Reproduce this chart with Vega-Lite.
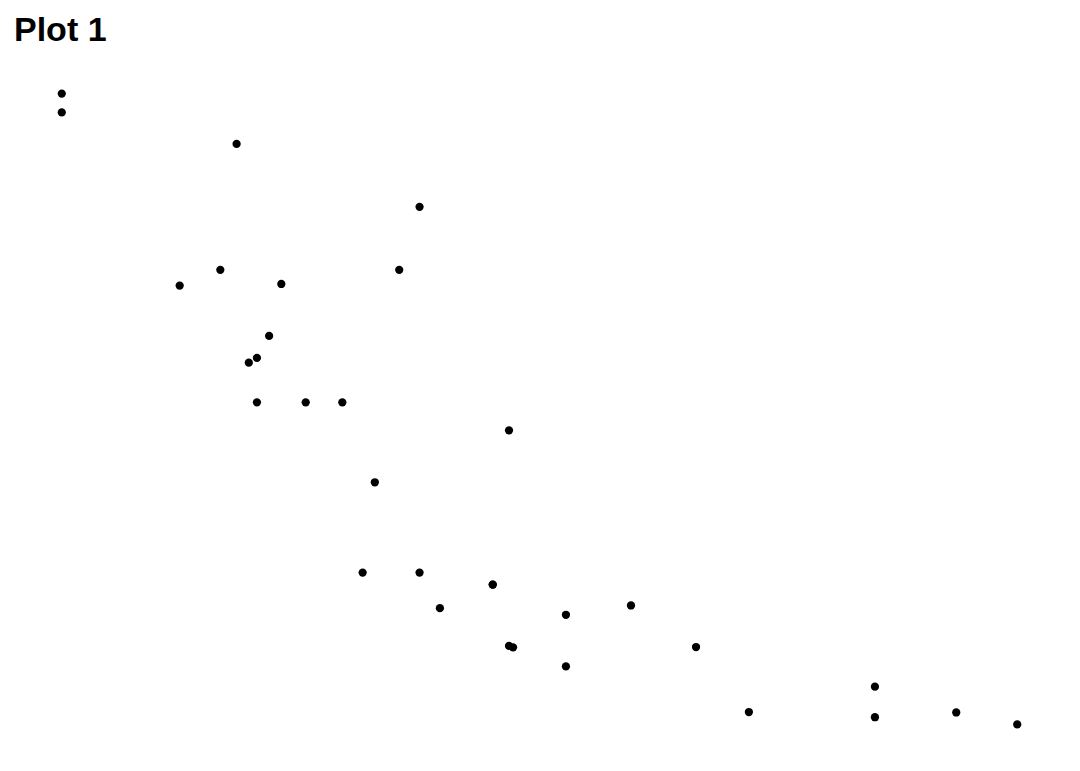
{
  "$schema": "https://vega.github.io/schema/vega-lite/v6.json",
  "autosize": {"type": "none"},
  "width": 1051,
  "height": 694,
  "padding": {"left": 14, "top": 62, "right": 15, "bottom": 15},
  "background": "white",
  "title": {
    "text": "Plot 1",
    "anchor": "start",
    "frame": "group",
    "font": "Liberation Sans",
    "fontSize": 34,
    "fontWeight": "bold",
    "color": "black",
    "baseline": "alphabetic",
    "offset": 20,
    "dy": 33
  },
  "config": {"view": {"stroke": null}},
  "data": {
    "values": [
      {"car": "Mazda RX4", "mpg": 21.0, "disp": 160},
      {"car": "Mazda RX4 Wag", "mpg": 21.0, "disp": 160},
      {"car": "Datsun 710", "mpg": 22.8, "disp": 108},
      {"car": "Hornet 4 Drive", "mpg": 21.4, "disp": 258},
      {"car": "Hornet Sportabout", "mpg": 18.7, "disp": 360},
      {"car": "Valiant", "mpg": 18.1, "disp": 225},
      {"car": "Duster 360", "mpg": 14.3, "disp": 360},
      {"car": "Merc 240D", "mpg": 24.4, "disp": 146.7},
      {"car": "Merc 230", "mpg": 22.8, "disp": 140.8},
      {"car": "Merc 280", "mpg": 19.2, "disp": 167.6},
      {"car": "Merc 280C", "mpg": 17.8, "disp": 167.6},
      {"car": "Merc 450SE", "mpg": 16.4, "disp": 275.8},
      {"car": "Merc 450SL", "mpg": 17.3, "disp": 275.8},
      {"car": "Merc 450SLC", "mpg": 15.2, "disp": 275.8},
      {"car": "Cadillac Fleetwood", "mpg": 10.4, "disp": 472},
      {"car": "Lincoln Continental", "mpg": 10.4, "disp": 460},
      {"car": "Chrysler Imperial", "mpg": 14.7, "disp": 440},
      {"car": "Fiat 128", "mpg": 32.4, "disp": 78.7},
      {"car": "Honda Civic", "mpg": 30.4, "disp": 75.7},
      {"car": "Toyota Corolla", "mpg": 33.9, "disp": 71.1},
      {"car": "Toyota Corona", "mpg": 21.5, "disp": 120.1},
      {"car": "Dodge Challenger", "mpg": 15.5, "disp": 318},
      {"car": "AMC Javelin", "mpg": 15.2, "disp": 304},
      {"car": "Camaro Z28", "mpg": 13.3, "disp": 350},
      {"car": "Pontiac Firebird", "mpg": 19.2, "disp": 400},
      {"car": "Fiat X1-9", "mpg": 27.3, "disp": 79},
      {"car": "Porsche 914-2", "mpg": 26.0, "disp": 120.3},
      {"car": "Lotus Europa", "mpg": 30.4, "disp": 95.1},
      {"car": "Ford Pantera L", "mpg": 15.8, "disp": 351},
      {"car": "Ferrari Dino", "mpg": 19.7, "disp": 145},
      {"car": "Maserati Bora", "mpg": 15.0, "disp": 301},
      {"car": "Volvo 142E", "mpg": 21.4, "disp": 121}
    ]
  },
  "mark": {"type": "point", "filled": true, "color": "black", "opacity": 1, "size": 68},
  "encoding": {
    "x": {"field": "mpg", "type": "quantitative", "scale": {"domain": [9.225, 35.075], "nice": false, "zero": false}, "axis": null},
    "y": {"field": "disp", "type": "quantitative", "scale": {"domain": [51.055, 492.045], "nice": false, "zero": false}, "axis": null}
  }
}
